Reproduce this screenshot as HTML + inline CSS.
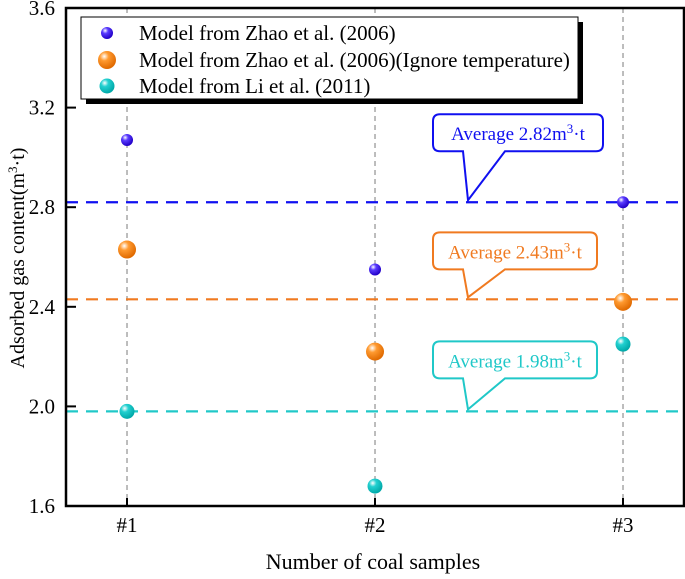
<!DOCTYPE html>
<html><head><meta charset="utf-8"><style>
body{margin:0;background:#fff}
text{font-family:"Liberation Serif",serif;fill:#000}
</style></head><body>
<svg id="c" width="685" height="574" viewBox="0 0 685 574">
<defs>
<radialGradient id="gb" cx="0.35" cy="0.3" r="0.7"><stop offset="0" stop-color="#fff"/><stop offset="0.35" stop-color="#5a3cff"/><stop offset="1" stop-color="#2200c8"/></radialGradient>
<radialGradient id="go" cx="0.35" cy="0.3" r="0.7"><stop offset="0" stop-color="#fff"/><stop offset="0.35" stop-color="#ff9a30"/><stop offset="1" stop-color="#e06a00"/></radialGradient>
<radialGradient id="gc" cx="0.35" cy="0.3" r="0.7"><stop offset="0" stop-color="#fff"/><stop offset="0.35" stop-color="#22d0d0"/><stop offset="1" stop-color="#00a8a8"/></radialGradient>
</defs>
<g id="grid"></g>
<g id="avg"></g>
<g id="pts"></g>
<rect x="66" y="8" width="618" height="498" fill="none" stroke="#000" stroke-width="2.5"/>
<g id="axes"></g>
<g>
<rect x="86" y="22" width="497" height="82" fill="#000"/>
<rect x="81" y="17" width="497" height="82" fill="#fff" stroke="#000" stroke-width="1"/>
<circle cx="107" cy="33" r="6" fill="url(#gb)"/>
<text x="139" y="40" font-size="21">Model from Zhao et al. (2006)</text>
<circle cx="107" cy="60" r="9" fill="url(#go)"/>
<text x="139" y="67" font-size="21">Model from Zhao et al. (2006)(Ignore temperature)</text>
<circle cx="107" cy="86" r="7.5" fill="url(#gc)"/>
<text x="139" y="93" font-size="21">Model from Li et al. (2011)</text>
</g>
<text transform="translate(24,258) rotate(-90)" text-anchor="middle" font-size="20">Adsorbed gas content(m<tspan font-size="13" dy="-7">3</tspan><tspan dy="7">·t)</tspan></text>
<text x="373" y="569" text-anchor="middle" font-size="22">Number of coal samples</text>
</svg>
<script>
const categories=["#1","#2","#3"];
const zhao=[3.07,2.55,2.82];
const zhaoIgnoreTemp=[2.63,2.22,2.42];
const li=[1.98,1.68,2.25];
const averages=[2.82,2.43,1.98];
const avgLabels=["Average 2.82","Average 2.43","Average 1.98"];
const yTicks=[1.6,2.0,2.4,2.8,3.2,3.6];
const NS="http://www.w3.org/2000/svg";
function y(v){return 506-(v-1.6)*249;}
function x(i){return 66+(i+1-0.754)*248;}
function mk(t,a,p){const e=document.createElementNS(NS,t);for(const k in a)e.setAttribute(k,a[k]);p.appendChild(e);return e;}
const grid=document.getElementById('grid'),axes=document.getElementById('axes'),avg=document.getElementById('avg'),pts=document.getElementById('pts');
categories.forEach((c,i)=>{
 const l=mk('line',{x1:x(i),x2:x(i),y1:8,y2:506,stroke:'#999','stroke-width':1.3,'stroke-dasharray':'5 4'},grid);
 
 
 mk('line',{x1:x(i),x2:x(i),y1:506,y2:498,stroke:'#000','stroke-width':2},axes);
 const t=mk('text',{x:x(i),y:532,'text-anchor':'middle','font-size':21},axes);t.textContent=c;
 
 
});
yTicks.forEach(v=>{
 mk('line',{x1:66,x2:76,y1:y(v),y2:y(v),stroke:'#000','stroke-width':2},axes);
 const t=mk('text',{x:55,y:y(v)+7,'text-anchor':'end','font-size':21},axes);t.textContent=v.toFixed(1);
 
 
});
const cols=['#1010f0','#f07a20','#20c8c8'];
const boxTop=[-88,-67,-70];
averages.forEach((v,k)=>{
 const yy=y(v);
 const l=mk('line',{x1:66,x2:684,y1:yy,y2:yy,stroke:cols[k],'stroke-width':2.2,'stroke-dasharray':'12 8'},avg);
 
 
 const bt=yy+boxTop[k],bb=bt+37,bx=433,bw=k==0?170:164,tip=468;
 const p=mk('path',{d:`M${bx+7},${bt} H${bx+bw-7} Q${bx+bw},${bt} ${bx+bw},${bt+7} V${bb-7} Q${bx+bw},${bb} ${bx+bw-7},${bb} H${bx+72} L${tip},${yy-2} L${bx+30},${bb} H${bx+7} Q${bx},${bb} ${bx},${bb-7} V${bt+7} Q${bx},${bt} ${bx+7},${bt} Z`,fill:'#fff',stroke:cols[k],'stroke-width':2},avg);
 
 
 const t=mk('text',{x:bx+bw/2,y:bt+26,'text-anchor':'middle','font-size':19,style:'fill:'+cols[k]},avg);
 
 
 t.textContent=avgLabels[k]+'m';
 const s=mk('tspan',{'font-size':13,dy:-7},t);s.textContent='3';
 const s2=mk('tspan',{dy:7},t);s2.textContent='·t';
});
[[zhao,'url(#gb)',6],[zhaoIgnoreTemp,'url(#go)',9],[li,'url(#gc)',7.5]].forEach(([arr,f,r])=>{
 arr.forEach((v,i)=>{
  const c=mk('circle',{cx:x(i),cy:y(v),r:r,fill:f},pts);
  
  
 });
});
</script>
</body></html>
